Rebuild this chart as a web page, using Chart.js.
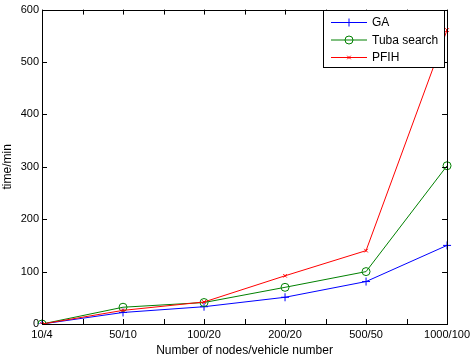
<!DOCTYPE html>
<html>
<head>
<meta charset="utf-8">
<script src="https://cdn.jsdelivr.net/npm/chart.js@4.4.1/dist/chart.umd.min.js"></script>
<style>
html,body{margin:0;padding:0;background:#fff;}
#wrap{width:474px;height:358px;position:relative;}
</style>
</head>
<body>
<div id="wrap"><canvas id="c" width="474" height="358"></canvas></div>
<script>
const categories = ['10/4', '50/10', '100/20', '200/20', '500/50', '1000/100'];
const gaValues = [0, 22, 33, 51, 81, 150];
const tubaValues = [0, 32, 41, 70, 100, 302];
const pfihValues = [0, 26, 42, 92, 140, 561];
const yTicks = [0, 100, 200, 300, 400, 500, 600];

const FONT = '"Liberation Sans", Arial, Helvetica, sans-serif';

const frame = {
  id: 'frame',
  afterDatasetsDraw(chart) {
    const ctx = chart.ctx, a = chart.chartArea;
    const xs = chart.scales.x, ys = chart.scales.y;
    ctx.save();
    ctx.strokeStyle = '#000';
    ctx.lineWidth = 1;
    ctx.strokeRect(Math.round(a.left) + 0.5, Math.round(a.top) + 0.5, Math.round(a.right - a.left), Math.round(a.bottom - a.top));
    const L = 5;
    ctx.beginPath();
    const n = categories.length;
    const xPos = [];
    for (let i = 0; i < n; i++) {
      xPos.push(xs.getPixelForValue(i));
      if (i < n - 1) xPos.push((xs.getPixelForValue(i) + xs.getPixelForValue(i + 1)) / 2);
    }
    xPos.forEach(p => {
      const px = Math.round(p) + 0.5;
      ctx.moveTo(px, a.bottom); ctx.lineTo(px, a.bottom - L);
      ctx.moveTo(px, a.top); ctx.lineTo(px, a.top + L);
    });
    yTicks.forEach(v => {
      const py = Math.round(ys.getPixelForValue(v)) + 0.5;
      ctx.moveTo(a.left, py); ctx.lineTo(a.left + L, py);
      ctx.moveTo(a.right, py); ctx.lineTo(a.right - L, py);
    });
    ctx.stroke();

    // legend box
    const bx = 323.5, by = 10.5, bw = 121, bh = 57;
    ctx.fillStyle = '#fff';
    ctx.fillRect(bx, by, bw, bh);
    ctx.strokeStyle = '#000';
    ctx.strokeRect(bx, by, bw, bh);
    ctx.font = '12px ' + FONT;
    ctx.textBaseline = 'middle';
    ctx.textAlign = 'left';
    const rows = [22.5, 40, 57.5];
    chart.data.datasets.forEach((ds, i) => {
      const y = rows[i];
      ctx.strokeStyle = ds.borderColor;
      ctx.lineWidth = 1;
      ctx.beginPath();
      ctx.moveTo(331, y); ctx.lineTo(367, y);
      ctx.stroke();
      ctx.fillStyle = 'rgba(0,0,0,0)';
      Chart.helpers.drawPoint(ctx, {pointStyle: ds.pointStyle, radius: ds.pointRadius, borderWidth: 1}, 349, y);
      ctx.fillStyle = '#000';
      ctx.fillText(ds.label, 372, y + 0.5);
    });
    ctx.restore();
  }
};

new Chart(document.getElementById('c'), {
  type: 'line',
  data: {
    labels: categories,
    datasets: [
      {label: 'GA', data: gaValues, borderColor: '#0000ff', backgroundColor: 'transparent', pointStyle: 'cross', pointRadius: 4, pointBorderColor: '#0000ff', borderWidth: 1, pointBorderWidth: 1, order: 2},
      {label: 'Tuba search', data: tubaValues, borderColor: '#008000', backgroundColor: 'transparent', pointStyle: 'circle', pointRadius: 4, pointBorderColor: '#008000', pointBackgroundColor: 'transparent', borderWidth: 1, pointBorderWidth: 1, order: 1},
      {label: 'PFIH', data: pfihValues, borderColor: '#ff0000', backgroundColor: 'transparent', pointStyle: 'crossRot', pointRadius: 2.5, pointBorderColor: '#ff0000', borderWidth: 1, pointBorderWidth: 1, order: 0}
    ]
  },
  options: {
    responsive: false,
    animation: false,
    devicePixelRatio: 1,
    layout: {padding: {left: 0, right: 26, top: 3, bottom: 0}},
    plugins: {legend: {display: false}, tooltip: {enabled: false}},
    elements: {line: {tension: 0}},
    scales: {
      x: {
        type: 'category',
        offset: false,
        grid: {display: false, drawTicks: false},
        border: {display: false},
        ticks: {color: '#000', font: {family: FONT, size: 11}, padding: 4, maxRotation: 0, autoSkip: false},
        title: {display: true, text: 'Number of nodes/vehicle number', color: '#000', font: {family: FONT, size: 12}, padding: {top: 0, bottom: 0}},
        afterFit(s) { s.height = 34; }
      },
      y: {
        min: 0, max: 600,
        grid: {display: false, drawTicks: false},
        border: {display: false},
        afterBuildTicks(s) { s.ticks = yTicks.map(v => ({value: v})); },
        ticks: {color: '#000', font: {family: FONT, size: 11}, padding: 3},
        title: {display: true, text: 'time/min', color: '#000', font: {family: FONT, size: 12}, padding: {top: 0, bottom: 0}},
        afterFit(s) { s.width = 42; }
      }
    }
  },
  plugins: [frame]
});
</script>
</body>
</html>
